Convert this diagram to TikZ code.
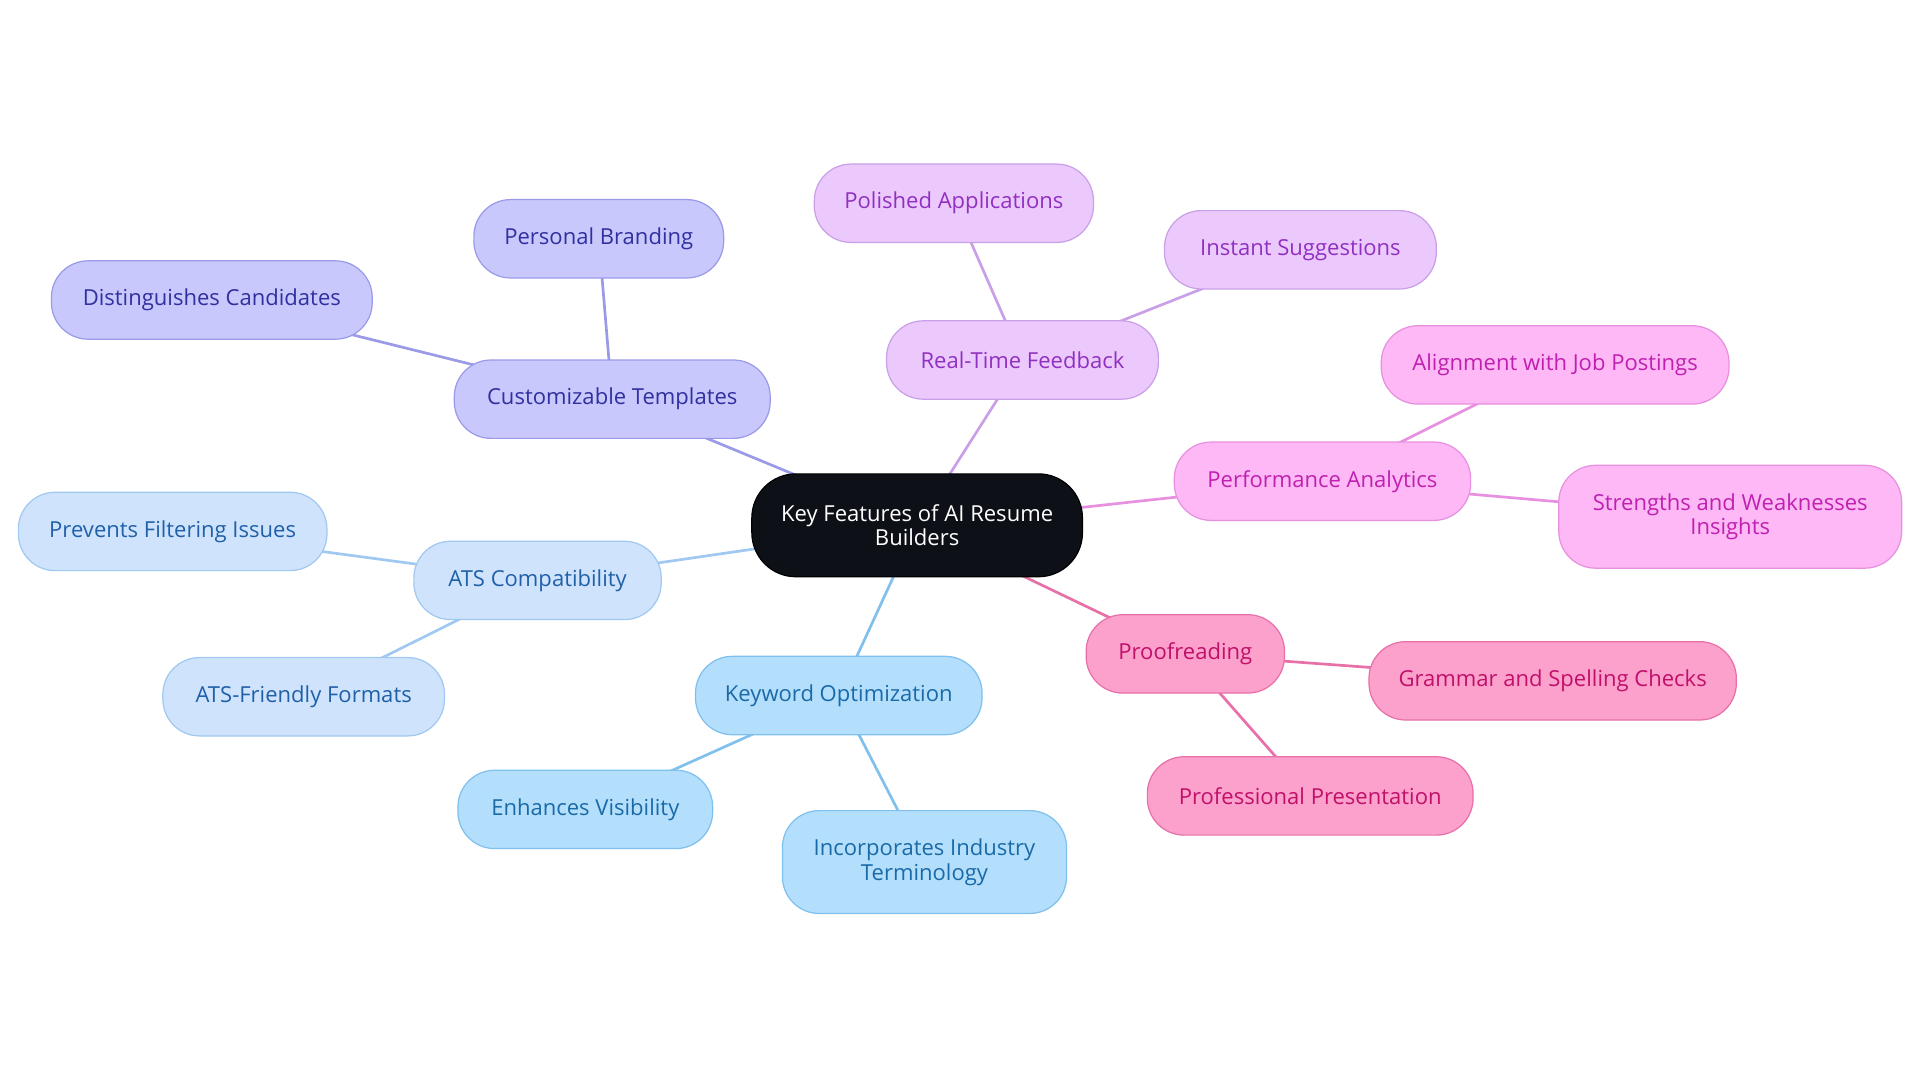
\documentclass[tikz,border=0pt]{standalone}
\usepackage{fontspec}
\setmainfont{Open Sans}
\usetikzlibrary{backgrounds}
\begin{document}
\begin{tikzpicture}[x=0.5pt,y=-0.5pt,
 base/.style={rounded corners=15pt,minimum height=32pt,align=center,font=\fontsize{9}{10}\selectfont,line width=0.5pt,inner sep=2pt},
 cen/.style={base,draw=black,text=white,minimum height=42pt,rounded corners=18pt},
 pur/.style={base,fill=c1f,draw=c1d,text=c1t},
 vio/.style={base,fill=c2f,draw=c2d,text=c2t},
 mag/.style={base,fill=c3f,draw=c3d,text=c3t},
 pnk/.style={base,fill=c4f,draw=c4d,text=c4t},
 sky/.style={base,fill=c5f,draw=c5d,text=c5t},
 lbl/.style={base,fill=c6f,draw=c6d,text=c6t},
 ed/.style={line width=1.1pt}]
\definecolor{c1f}{HTML}{C8C8FC}\definecolor{c1d}{HTML}{9A9AE8}\definecolor{c1t}{HTML}{3030A0}
\definecolor{c2f}{HTML}{ECC9FC}\definecolor{c2d}{HTML}{C9A0E8}\definecolor{c2t}{HTML}{9030C0}
\definecolor{c3f}{HTML}{FDB8F5}\definecolor{c3d}{HTML}{E890E0}\definecolor{c3t}{HTML}{C020B0}
\definecolor{c4f}{HTML}{FCA0CC}\definecolor{c4d}{HTML}{E870A8}\definecolor{c4t}{HTML}{C0106A}
\definecolor{c5f}{HTML}{B3DFFC}\definecolor{c5d}{HTML}{80C0EC}\definecolor{c5t}{HTML}{1A6AA8}
\definecolor{c6f}{HTML}{CFE4FC}\definecolor{c6d}{HTML}{A0C8F0}\definecolor{c6t}{HTML}{2060A8}
\definecolor{cbg}{HTML}{0D1117}
\useasboundingbox (0,0) rectangle (1568,884);
\node[cen,minimum width=135pt,fill=cbg] (c) at (749,429) {Key Features of AI Resume\\Builders};
\node[pur,minimum width=129pt] (ct) at (500,326) {Customizable Templates};
\node[pur,minimum width=102pt] (pb) at (489,195) {Personal Branding};
\node[pur,minimum width=131pt] (dc) at (173,245) {Distinguishes Candidates};
\node[vio,minimum width=111pt] (rt) at (835,294) {Real-Time Feedback};
\node[vio,minimum width=114pt] (pa) at (779,166) {Polished Applications};
\node[vio,minimum width=111pt] (is) at (1062,204) {Instant Suggestions};
\node[mag,minimum width=121pt] (pf) at (1080,393) {Performance Analytics};
\node[mag,minimum width=142pt] (aj) at (1270,298) {Alignment with Job Postings};
\node[mag,minimum width=140pt,minimum height=42pt] (sw) at (1413,422) {Strengths and Weaknesses\\Insights};
\node[pnk,minimum width=81pt] (pr) at (968,534) {Proofreading};
\node[pnk,minimum width=150pt] (gs) at (1268,556) {Grammar and Spelling Checks};
\node[pnk,minimum width=133pt] (pp) at (1070,650) {Professional Presentation};
\node[sky,minimum width=117pt] (ko) at (685,568) {Keyword Optimization};
\node[sky,minimum width=104pt] (ev) at (478,661) {Enhances Visibility};
\node[sky,minimum width=116pt,minimum height=42pt] (it) at (755,704) {Incorporates Industry\\Terminology};
\node[lbl,minimum width=101pt] (at) at (439,474) {ATS Compatibility};
\node[lbl,minimum width=126pt] (pi) at (141,434) {Prevents Filtering Issues};
\node[lbl,minimum width=115pt] (af) at (248,569) {ATS-Friendly Formats};
\begin{scope}[on background layer]
\draw[ed,c1d] (c.center)--(ct.center) (ct.center)--(pb.center) (ct.center)--(dc.center);
\draw[ed,c2d] (c.center)--(rt.center) (rt.center)--(pa.center) (rt.center)--(is.center);
\draw[ed,c3d] (c.center)--(pf.center) (pf.center)--(aj.center) (pf.center)--(sw.center);
\draw[ed,c4d] (c.center)--(pr.center) (pr.center)--(gs.center) (pr.center)--(pp.center);
\draw[ed,c5d] (c.center)--(ko.center) (ko.center)--(ev.center) (ko.center)--(it.center);
\draw[ed,c6d] (c.center)--(at.center) (at.center)--(pi.center) (at.center)--(af.center);
\end{scope}
\end{tikzpicture}
\end{document}
